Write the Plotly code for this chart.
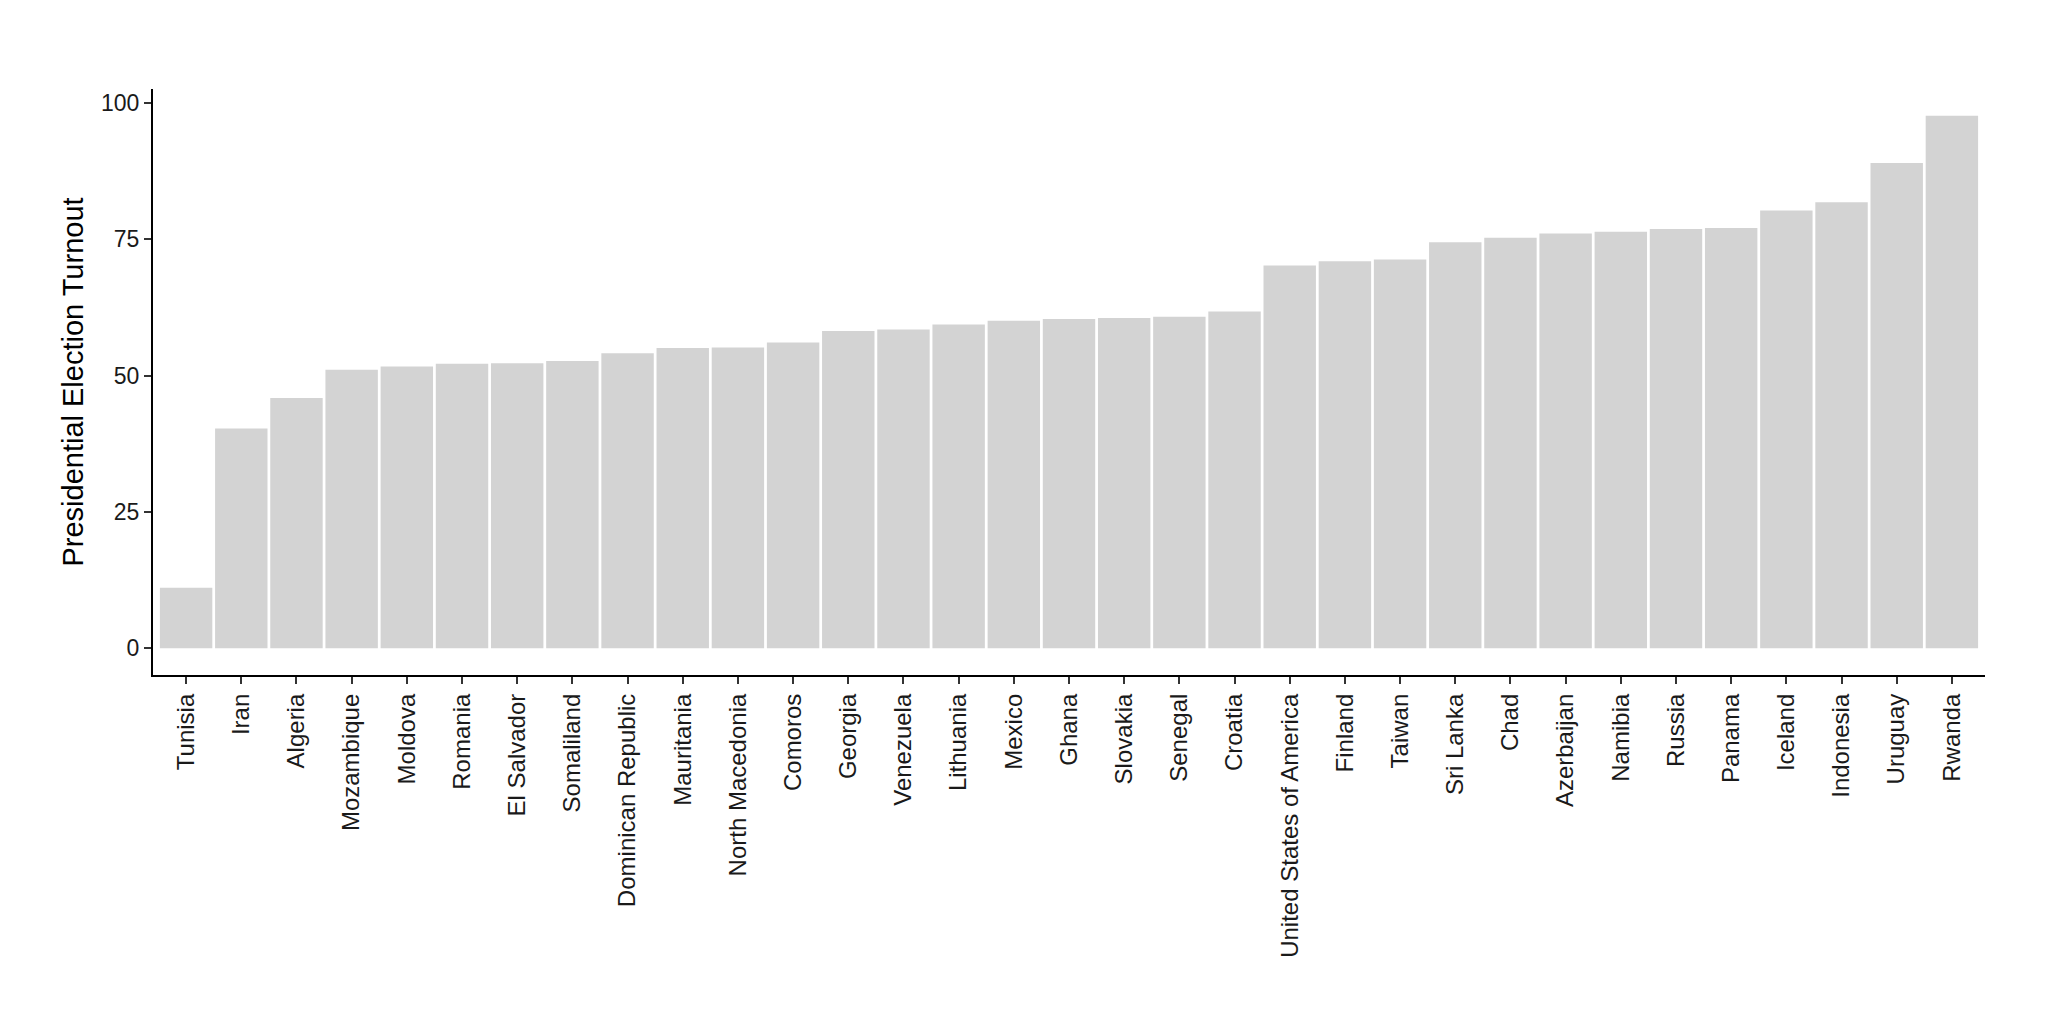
import plotly.graph_objects as go

countries = ["Tunisia", "Iran", "Algeria", "Mozambique", "Moldova", "Romania", "El Salvador",
             "Somaliland", "Dominican Republic", "Mauritania", "North Macedonia", "Comoros",
             "Georgia", "Venezuela", "Lithuania", "Mexico", "Ghana", "Slovakia", "Senegal",
             "Croatia", "United States of America", "Finland", "Taiwan", "Sri Lanka", "Chad",
             "Azerbaijan", "Namibia", "Russia", "Panama", "Iceland", "Indonesia", "Uruguay",
             "Rwanda"]
turnout = [11.1, 40.3, 45.9, 51.1, 51.7, 52.2, 52.3, 52.7, 54.1, 55.1, 55.2, 56.1,
           58.2, 58.5, 59.4, 60.1, 60.4, 60.6, 60.8, 61.8, 70.2, 71.0, 71.3, 74.5, 75.3,
           76.1, 76.4, 76.9, 77.1, 80.3, 81.8, 89.0, 97.7]
y_ticks = [0, 25, 50, 75, 100]
y_title = "Presidential Election Turnout"

FONT = "Liberation Sans, Arial, sans-serif"

fig = go.Figure(go.Bar(
    x=countries, y=turnout,
    marker=dict(color="#D3D3D3", line=dict(width=0)),
    hoverinfo="x+y",
))

n = len(countries)
ymax = max(turnout)
fig.update_layout(
    width=2048, height=1024,
    margin=dict(l=153, r=63, t=89, b=349),
    paper_bgcolor="white", plot_bgcolor="white",
    bargap=0.05,
    showlegend=False,
    font=dict(family=FONT, color="black"),
)
fig.update_xaxes(
    type="category",
    range=[-0.6, n - 1 + 0.6],
    showline=True, linecolor="black", linewidth=2.2,
    ticks="outside", ticklen=7, tickwidth=2, tickcolor="#333333",
    tickangle=-90, tickfont=dict(size=24, family=FONT, color="#1a1a1a"),
    showgrid=False, zeroline=False,
)
fig.update_yaxes(
    range=[-0.05 * ymax, ymax * 1.05],
    tickvals=y_ticks,
    showline=True, linecolor="black", linewidth=2.2,
    ticks="outside", ticklen=7, tickwidth=2, tickcolor="#333333",
    tickfont=dict(size=23, family=FONT, color="#1a1a1a"),
    showgrid=False, zeroline=False,
    title=dict(text=y_title, font=dict(size=29, family=FONT, color="black"), standoff=9),
)

fig.write_html("out.html")
